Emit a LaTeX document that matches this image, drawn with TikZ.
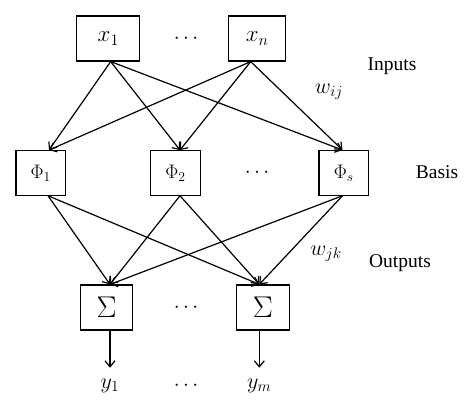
\RequirePackage{fix-cm}
\documentclass[tikz,border=0pt]{standalone}
\usepackage{fontspec}
\setmainfont{Liberation Serif}
\usetikzlibrary{arrows.meta,calc}
\tikzset{
  unitbox/.style={draw, line width=1.2pt, inner sep=0pt, rectangle},
  lbl/.style={inner sep=0pt, font=\fontsize{19.5}{22}\selectfont},
  mlbl/.style={inner sep=0pt, font=\fontsize{21}{24}\selectfont},
  conn/.style={line width=1.2pt, -{Straight Barb[length=6pt,width=10pt,line width=1.2pt]}},
}
\begin{document}
\begin{tikzpicture}[x=1pt,y=-1pt]
\useasboundingbox (0,0) rectangle (474,412);
% inputs
\node[unitbox, minimum width=63pt, minimum height=45pt, font=\fontsize{23}{26}\selectfont] (x1) at (108.3,38.5) {$x_1$};
\node[unitbox, minimum width=57pt, minimum height=45pt, font=\fontsize{23}{26}\selectfont] (xn) at (257.3,38.5) {$x_n$};
\node[mlbl] (d1) at (186,39) {$\cdots$};
% basis
\node[unitbox, minimum width=49.5pt, minimum height=44.5pt, font=\fontsize{19.5}{22}\selectfont] (p1) at (40.8,172.9) {$\Phi_1$};
\node[unitbox, minimum width=49.5pt, minimum height=44.5pt, font=\fontsize{19.5}{22}\selectfont] (p2) at (175.4,172.9) {$\Phi_2$};
\node[unitbox, minimum width=49.5pt, minimum height=44.5pt, font=\fontsize{19.5}{22}\selectfont] (ps) at (343.7,172.9) {$\Phi_s$};
\node[mlbl] (d2) at (257,173) {$\cdots$};
% outputs
\node[unitbox, minimum width=52pt, minimum height=45pt, font=\fontsize{30}{32}\selectfont] (s1) at (106.7,307.5) {$\Sigma$};
\node[unitbox, minimum width=52.5pt, minimum height=45pt, font=\fontsize{30}{32}\selectfont] (s2) at (263,307.5) {$\Sigma$};
\node[mlbl] (d3) at (186,308) {$\cdots$};
% connection points
\coordinate (x1b) at ($(x1.south)+(2.4,0)$);
\coordinate (xnb) at ($(xn.south)+(-6.6,0)$);
\coordinate (p1t) at ($(p1.north)+(8.2,0)$);
\coordinate (p2t) at ($(p2.north)+(4.6,0)$);
\coordinate (pst) at ($(ps.north)+(-1.2,0)$);
\coordinate (p1b) at ($(p1.south)+(7.2,0)$);
\coordinate (p2b) at ($(p2.south)+(4.6,0)$);
\coordinate (psb) at ($(ps.south)+(-1.2,0)$);
\coordinate (s1t) at ($(s1.north)+(3.3,0)$);
\coordinate (s2t) at ($(s2.north)+(-3.7,0)$);
\coordinate (s1b) at ($(s1.south)+(3.3,0)$);
\coordinate (s2b) at ($(s2.south)+(-3.7,0)$);
% outputs y
\node[inner sep=0pt, font=\fontsize{22}{24}\selectfont] (y1) at (110,386) {$y_1$};
\node[inner sep=0pt, font=\fontsize{22}{24}\selectfont] (ym) at (259.3,386) {$y_m$};
\node[mlbl] (d4) at (186,386) {$\cdots$};
\coordinate (y1t) at (110,367.7);
\coordinate (ymt) at (259.3,367.7);
% labels
\node[lbl] (inputs) at (392,66) {Inputs};
\node[lbl] (basis) at (437,172) {Basis};
\node[lbl] (outputs) at (400,263) {Outputs};
\node[inner sep=0pt, font=\fontsize{22}{24}\selectfont] (wij) at (329,92) {$w_{ij}$};
\node[inner sep=0pt, font=\fontsize{22}{24}\selectfont] (wjk) at (326,254) {$w_{jk}$};
% connectors input -> basis
\foreach \s in {x1b,xnb}
  \foreach \t in {p1t,p2t,pst}
    \draw[conn] (\s) -- (\t);
% basis -> outputs
\foreach \s in {p1b,p2b,psb}
  \foreach \t in {s1t,s2t}
    \draw[conn] (\s) -- (\t);
\draw[conn] (s1b) -- (y1t);
\draw[conn] (s2b) -- (ymt);
\end{tikzpicture}
\end{document}
